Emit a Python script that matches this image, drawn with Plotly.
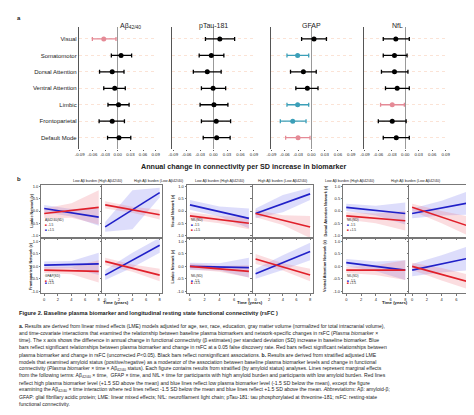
import plotly.graph_objects as go

W, H = 474, 415
def fx(p): return p / W
def fy(p): return 1 - p / H

# ---------------- data: panel a ----------------
networks = ["Visual", "Somatomotor", "Dorsal Attention", "Ventral Attention", "Limbic", "Frontoparietal", "Default Mode"]
biomarkers = ["Aβ<sub>42/40</sub>", "pTau-181", "GFAP", "NfL"]
est_ab = [-0.033, 0.008, -0.013, -0.007, 0.002, -0.013, 0.003]
lo_ab = [-0.060, -0.015, -0.043, -0.033, -0.023, -0.044, -0.024]
hi_ab = [-0.004, 0.033, 0.015, 0.018, 0.027, 0.016, 0.031]
sig_ab = ["p", "n", "n", "n", "n", "n", "n"]
est_pt = [0.014, -0.005, -0.014, -0.001, 0.001, 0.006, 0.007]
lo_pt = [-0.018, -0.032, -0.045, -0.027, -0.030, -0.027, -0.023]
hi_pt = [0.047, 0.023, 0.017, 0.027, 0.032, 0.038, 0.037]
sig_pt = ["n"] * 7
est_gf = [0.006, -0.031, -0.018, -0.009, -0.031, -0.042, -0.030]
lo_gf = [-0.022, -0.055, -0.047, -0.035, -0.055, -0.070, -0.058]
hi_gf = [0.034, -0.006, 0.011, 0.015, -0.006, -0.012, -0.003]
sig_gf = ["n", "b", "n", "n", "b", "b", "p"]
est_nf = [-0.021, -0.024, -0.024, -0.018, -0.029, -0.029, -0.020]
lo_nf = [-0.049, -0.049, -0.053, -0.044, -0.055, -0.060, -0.049]
hi_nf = [0.009, 0.004, 0.006, 0.009, -0.002, 0.002, 0.009]
sig_nf = ["n", "n", "n", "n", "p", "n", "n"]
xticks_a = [-0.09, -0.06, -0.03, 0.0, 0.03, 0.06, 0.09]
xticklabels_a = ["-0.09", "-0.06", "-0.03", "0.00", "0.03", "0.06", "0.09"]

# ---------------- data: panel b ----------------
time_pts = [0, 4, 8]
b_panels = [
    dict(red=[-0.10, 0.02, 0.15], redw=[0.20, 0.30, 0.70], blue=[0.10, -0.07, -0.25], bluew=[0.15, 0.15, 0.35]),
    dict(red=[0.25, 0.05, -0.15], redw=[0.15, 0.12, 0.20], blue=[-0.65, 0.05, 0.75], bluew=[0.20, 0.80, 0.20]),
    dict(red=[-0.15, -0.17, -0.20], redw=[0.12, 0.15, 0.45], blue=[0.05, 0.07, 0.10], bluew=[0.15, 0.15, 0.45]),
    dict(red=[0.20, -0.07, -0.35], redw=[0.15, 0.15, 0.25], blue=[-0.35, 0.25, 0.85], bluew=[0.20, 0.30, 0.30]),
    dict(red=[-0.20, -0.35, -0.50], redw=[0.15, 0.15, 0.25], blue=[0.25, -0.02, -0.30], bluew=[0.20, 0.20, 0.40]),
    dict(red=[-0.10, -0.37, -0.65], redw=[0.15, 0.20, 0.45], blue=[-0.10, 0.30, 0.70], bluew=[0.20, 0.35, 0.25]),
    dict(red=[0.00, -0.10, -0.20], redw=[0.12, 0.12, 0.25], blue=[0.00, -0.02, -0.05], bluew=[0.15, 0.15, 0.40]),
    dict(red=[0.30, -0.02, -0.35], redw=[0.20, 0.15, 0.25], blue=[-0.30, 0.15, 0.60], bluew=[0.20, 0.30, 0.35]),
    dict(red=[-0.20, -0.30, -0.40], redw=[0.15, 0.20, 0.40], blue=[0.15, 0.02, -0.10], bluew=[0.15, 0.20, 0.45]),
    dict(red=[0.15, -0.25, -0.65], redw=[0.15, 0.25, 0.40], blue=[-0.10, 0.12, 0.35], bluew=[0.20, 0.30, 0.50]),
    dict(red=[-0.15, -0.15, -0.15], redw=[0.12, 0.20, 0.40], blue=[0.15, 0.00, -0.15], bluew=[0.15, 0.20, 0.40]),
    dict(red=[0.00, -0.32, -0.65], redw=[0.15, 0.25, 0.30], blue=[-0.15, 0.10, 0.35], bluew=[0.25, 0.35, 0.50]),
]
b_ylabels = ["Limbic Network (z)", "Frontoparietal Network (z)", "Visual Network (z)",
             "Limbic Network (z)", "Dorsal Attention Network (z)", "Ventral Attention Network (z)"]
b_legtitles = ["Aβ42/40(SD)", "GFAP(SD)", "NfL(SD)", "NfL(SD)", "NfL(SD)", "NfL(SD)"]
b_header_low = "Low Aβ burden (High Aβ42/40)"
b_header_high = "High Aβ burden (Low Aβ42/40)"

caption_title = "Figure 2. Baseline plasma biomarker and longitudinal resting state functional connectivity (rsFC )"
caption_lines = [
    "<b>a.</b> Results are derived from linear mixed effects (LME) models adjusted for age, sex, race, education, gray matter volume (normalized for total intracranial volume),",
    "and time-covariate interactions that examined the relationship between baseline plasma biomarkers and network-specific changes in rsFC (<i>Plasma biomarker</i> ×",
    "time). The x axis shows the difference in annual change in functional connectivity (β estimates) per standard deviation (SD) increase in baseline biomarker. Blue",
    "bars reflect significant relationships between plasma biomarker and change in rsFC at a 0.05 false discovery rate. Red bars reflect significant relationships between",
    "plasma biomarker and change in rsFC (uncorrected <i>P</i><0.05). Black bars reflect nonsignificant associations. <b>b.</b> Results are derived from stratified adjusted LME",
    "models that examined amyloid status (positive/negative) as a moderator of the association between baseline plasma biomarker levels and change in functional",
    "connectivity (<i>Plasma biomarker</i> × time × Aβ<sub>42/40</sub> status). Each figure contains results from stratified (by amyloid status) analyses. Lines represent marginal effects",
    "from the following terms: Aβ<sub>42/40</sub> × time,  GFAP × time, and NfL × time for participants with high amyloid burden and participants with low amyloid burden. Red lines",
    "reflect high plasma biomarker level (+1.5 SD above the mean) and blue lines reflect low plasma biomarker level (-1.5 SD below the mean), except the figure",
    "examining the Aβ<sub>42/40</sub> × time interaction where red lines reflect -1.5 SD below the mean and blue lines reflect +1.5 SD above the mean. <i>Abbreviations:</i> Aβ: amyloid-β;",
    "GFAP: glial fibrillary acidic protein; LME: linear mixed effects; NfL: neurofilament light chain; pTau-181: tau phosphorylated at threonine-181; rsFC: resting-state",
    "functional connectivity.",
]

FONT = "Liberation Sans, Arial, sans-serif"
COL = {"n": "black", "p": "#e58a96", "b": "#3b9fb8"}
RED, BLUE = "#e0202a", "#2020c8"

fig = go.Figure()
layout = dict(width=W, height=H, margin=dict(l=0, r=0, t=0, b=0), showlegend=False,
              paper_bgcolor="white", plot_bgcolor="white", font=dict(family=FONT, color="#222"))
annots = []
ax = [0]

def new_axes(xd, yd, **kw):
    ax[0] += 1
    n = ax[0]
    xs = "" if n == 1 else str(n)
    layout["xaxis" + xs] = dict(domain=xd, anchor="y" + xs, **kw.get("x", {}))
    layout["yaxis" + xs] = dict(domain=yd, anchor="x" + xs, **kw.get("y", {}))
    return "x" + xs, "y" + xs

# ---------- panel a ----------
a_x = [(68, 147), (163, 247), (263, 346), (358, 442)]
a_sets = [(est_ab, lo_ab, hi_ab, sig_ab), (est_pt, lo_pt, hi_pt, sig_pt),
          (est_gf, lo_gf, hi_gf, sig_gf), (est_nf, lo_nf, hi_nf, sig_nf)]
for k, ((x0, x1), (e, lo, hi, sg)) in enumerate(zip(a_x, a_sets)):
    xa, ya = new_axes([fx(x0), fx(x1)], [fy(140), fy(18)],
        x=dict(range=[-0.092, 0.092], tickvals=xticks_a, ticktext=xticklabels_a, tickfont=dict(size=4.3),
               tickangle=0, showgrid=False, zeroline=True, zerolinecolor="#999", zerolinewidth=1,
               ticks="outside", ticklen=1.5, tickcolor="#555", showline=False),
        y=dict(range=[6.67, -0.73], tickvals=list(range(7)), ticktext=networks if k == 0 else [""] * 7,
               showticklabels=(k == 0), tickfont=dict(size=6), showgrid=True, gridcolor="#fbe3d6",
               griddash="dot", gridwidth=0.6, zeroline=False, showline=True, linecolor="#555", linewidth=1, ticks=""))
    for c in ["n", "p", "b"]:
        idx = [i for i in range(7) if sg[i] == c]
        if not idx:
            continue
        fig.add_trace(go.Scatter(
            x=[e[i] for i in idx], y=idx, xaxis=xa, yaxis=ya, mode="markers",
            marker=dict(color=COL[c], size=5),
            error_x=dict(type="data", symmetric=False, array=[hi[i] - e[i] for i in idx],
                         arrayminus=[e[i] - lo[i] for i in idx], color=COL[c], thickness=1.3, width=2)))
    annots.append(dict(text=biomarkers[k], x=fx((x0 + x1) / 2), y=fy(11), xref="paper", yref="paper",
                       showarrow=False, font=dict(size=7)))
annots.append(dict(text="<b>Annual change in connectivity per SD increase in biomarker</b>", x=fx(236), y=fy(158),
                   xref="paper", yref="paper", showarrow=False, font=dict(size=7.2)))
annots.append(dict(text="<b>a</b>", x=fx(3), y=fy(4), xref="paper", yref="paper", showarrow=False, font=dict(size=6)))
annots.append(dict(text="<b>b</b>", x=fx(3), y=fy(170), xref="paper", yref="paper", showarrow=False, font=dict(size=6)))

# ---------- panel b ----------
groups = [((30, 91), (92, 153)), ((178, 244), (245, 306)), ((337, 403), (404, 470))]
rows = [(176, 229), (231, 285)]
pi = 0
for g, (lcol, rcol) in enumerate(groups):
    for r, (ry0, ry1) in enumerate(rows):
        for side, (cx0, cx1) in enumerate([lcol, rcol]):
            p = b_panels[pi]; pi += 1
            xa, ya = new_axes([fx(cx0), fx(cx1)], [fy(ry1), fy(ry0)],
                x=dict(range=[-0.4, 8.4], tickvals=[0, 2, 4, 6, 8], showticklabels=(r == 1), tickfont=dict(size=4),
                       tickangle=0, showgrid=False, zeroline=False, showline=True, mirror=True, linecolor="#777",
                       linewidth=0.8, ticks="outside", ticklen=1.5, tickcolor="#777"),
                y=dict(range=[-1.08, 1.08], tickvals=[-1, -0.5, 0, 0.5, 1],
                       ticktext=["-1.0", "-0.5", "0.0", "0.5", "1.0"], showticklabels=(side == 0), tickfont=dict(size=4),
                       showgrid=False, zeroline=False, showline=True, mirror=True, linecolor="#777", linewidth=0.8,
                       ticks="outside", ticklen=1.5, tickcolor="#777"))
            for line, wid, fill in [(p["blue"], p["bluew"], "rgba(120,120,240,0.25)"),
                                    (p["red"], p["redw"], "rgba(240,120,130,0.25)")]:
                up = [a + b for a, b in zip(line, wid)]
                dn = [a - b for a, b in zip(line, wid)]
                fig.add_trace(go.Scatter(x=time_pts + time_pts[::-1], y=up + dn[::-1], xaxis=xa, yaxis=ya,
                                         fill="toself", fillcolor=fill, line=dict(width=0), mode="lines",
                                         hoverinfo="skip"))
            for line, col in [(p["blue"], BLUE), (p["red"], RED)]:
                fig.add_trace(go.Scatter(x=time_pts, y=line, xaxis=xa, yaxis=ya, mode="lines",
                                         line=dict(color=col, width=1.6)))
            if side == 0:
                k = g * 2 + r
                lx, ly = cx0 + 3, ry1 - 17
                annots.append(dict(text=b_legtitles[k], x=fx(lx), y=fy(ly), xref="paper", yref="paper",
                                   xanchor="left", showarrow=False, font=dict(size=3.2), borderpad=0))
                first, second = ((RED, "-1.5"), (BLUE, "+1.5")) if g == 0 else ((BLUE, "-1.5"), (RED, "+1.5"))
                for j, (cc, tt) in enumerate([first, second]):
                    annots.append(dict(text=f"<span style='color:{cc}'>■</span> {tt}", x=fx(lx), y=fy(ly + 5 + 4.5 * j),
                                       xref="paper", yref="paper", xanchor="left", showarrow=False,
                                       font=dict(size=3.2), borderpad=0))
                annots.append(dict(text=f"<b>{b_ylabels[k]}</b>", x=fx(cx0 - 14), y=fy((ry0 + ry1) / 2),
                                   xref="paper", yref="paper", textangle=-90, showarrow=False, font=dict(size=3.8)))
            if r == 0:
                annots.append(dict(text=b_header_low if side == 0 else b_header_high, x=fx((cx0 + cx1) / 2),
                                   y=fy(172), xref="paper", yref="paper", showarrow=False, font=dict(size=3.6)))
    annots.append(dict(text="<b>Time (years)</b>", x=fx((lcol[0] + rcol[1]) / 2), y=fy(298), xref="paper",
                       yref="paper", showarrow=False, font=dict(size=4.3), borderpad=0))

# ---------- caption ----------
annots.append(dict(text="<b>" + caption_title + "</b>", x=fx(6), y=fy(308.5), xref="paper", yref="paper",
                   xanchor="left", showarrow=False, font=dict(size=5.6), borderpad=0))
for i, t in enumerate(caption_lines):
    annots.append(dict(text=t, x=fx(6), y=fy(322 + 7.1 * i), xref="paper", yref="paper",
                       xanchor="left", showarrow=False, font=dict(size=5.1), borderpad=0))

layout["annotations"] = annots
fig.update_layout(**layout)
fig.write_html("out.html")
